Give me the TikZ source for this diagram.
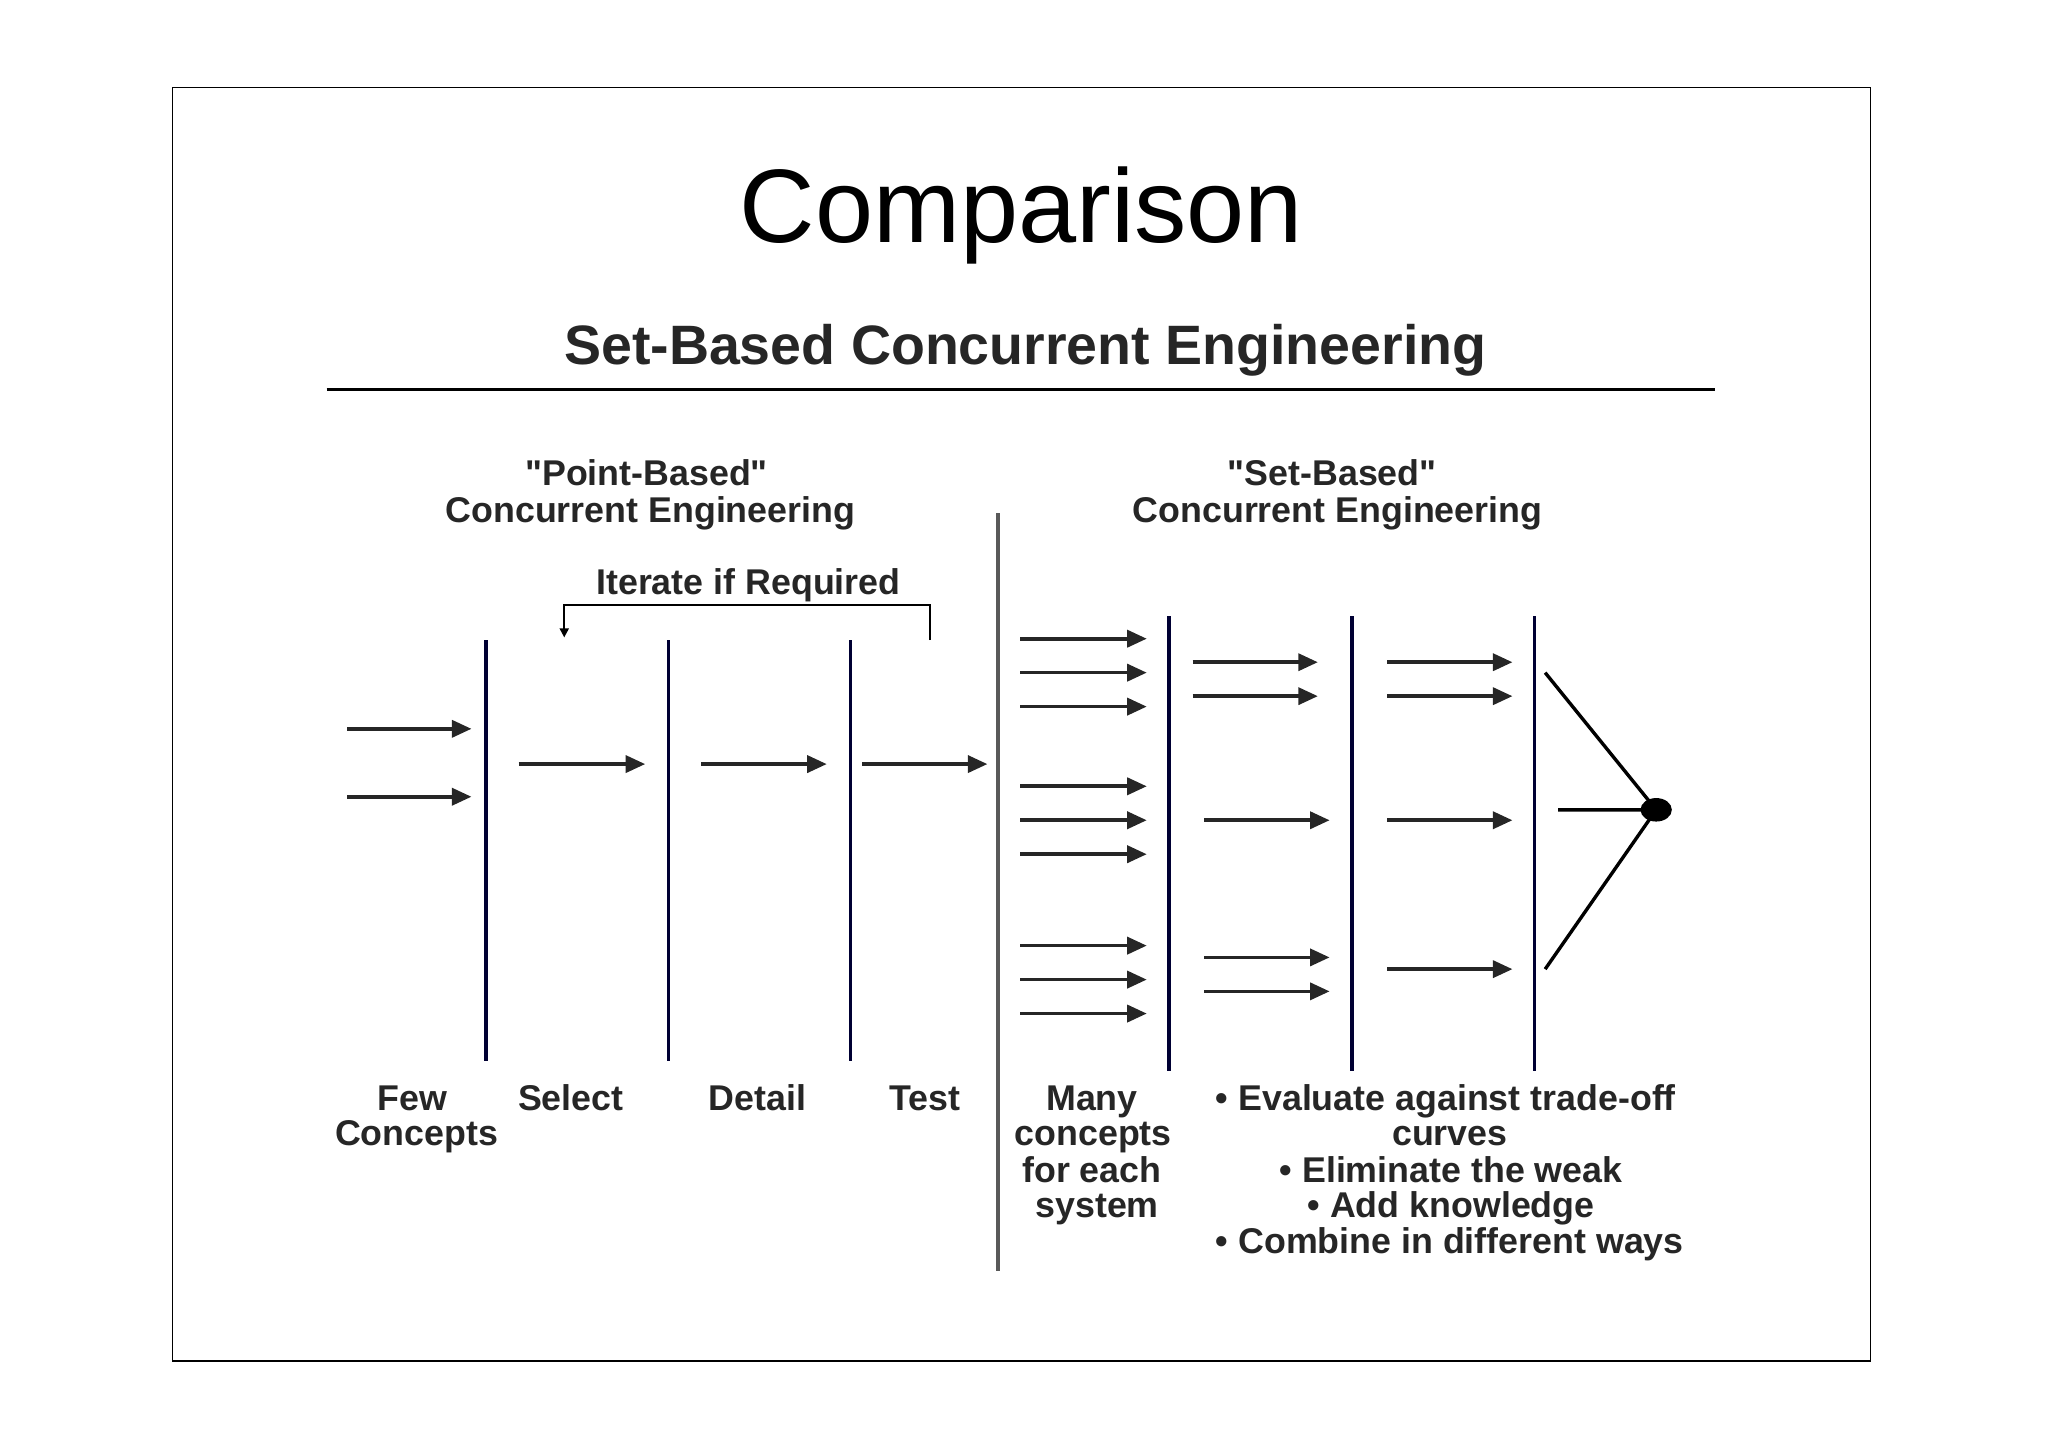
\documentclass[tikz,border=0pt]{standalone}
\usepackage{fontspec}
\setmainfont{Liberation Sans}[Ligatures=TeXOff]
\usetikzlibrary{arrows.meta,shapes.geometric}
\begin{document}
\begin{tikzpicture}[x=1pt,y=-1pt,
 lbl/.style={font=\fontsize{27.4}{30}\selectfont\bfseries, text=black!85, inner sep=0pt, anchor=base},
 ar/.style={line width=2.8pt, -{Triangle[length=15pt,width=13pt]}, draw=black!85},
 vl/.style={line width=2.6pt, draw=black!80!blue}]
\useasboundingbox (0,0) rectangle (1568,1108);
\draw[line width=1.2pt] (132,67) rectangle (1432,1042);
\node[inner sep=0pt,font=\fontsize{80}{90}\selectfont] (title) at (782,165) {Comparison};
\node[inner sep=0pt,font=\fontsize{42.5}{46}\selectfont\bfseries,text=black!85] (sub) at (785,268) {Set-Based Concurrent Engineering};
\coordinate (ul1) at (250,298); \coordinate (ul2) at (1313,298);
\draw[line width=2.5pt] (ul1) -- (ul2);
\coordinate (d1) at (764,393); \coordinate (d2) at (764,973);
\draw[line width=2.5pt, black!65] (d1) -- (d2);
\node[lbl] (ph1) at (495,372) {"Point-Based"};
\node[lbl] (ph2) at (498,400) {Concurrent Engineering};
\node[lbl] (sh1) at (1020,372) {"Set-Based"};
\node[lbl] (sh2) at (1024,400) {Concurrent Engineering};
\node[lbl] (it) at (573,455) {Iterate if Required};
\coordinate (i1) at (712,490); \coordinate (i2) at (432,488);
\draw[line width=1.5pt, -{Triangle[length=7pt,width=7pt]}] (i1) -- (712,463) -- (432,463) -- (i2);
% verticals
\foreach \n/\x/\a/\b in {v1/372/490/812, v2/512/490/812, v3/651/490/812, v4/895/472/820, v5/1035/472/820, v6/1175/472/820}{
  \coordinate (\n a) at (\x,\a); \coordinate (\n b) at (\x,\b);
  \draw[vl] (\n a) -- (\n b);}
% arrows
\foreach \n/\xa/\xb/\y in {a1/266/361/558, a2/266/361/610, a3/397/494/585, a4/537/633/585, a5/660/756/585,
  b1/781/878/489, b2/781/878/515, b3/781/878/541, b4/781/878/602, b5/781/878/628, b6/781/878/654,
  b7/781/878/724, b8/781/878/750, b9/781/878/776,
  c1/913/1009/507, c2/913/1009/533, c3/922/1018/628, c4/922/1018/733, c5/922/1018/759,
  e1/1062/1158/507, e2/1062/1158/533, e3/1062/1158/628, e4/1062/1158/742}{
  \coordinate (\n s) at (\xa,\y); \coordinate (\n e) at (\xb,\y);
  \draw[ar] (\n s) -- (\n e);}
\node[fill=black, ellipse, minimum width=24pt, minimum height=18pt, inner sep=0pt] (dot) at (1268,620) {};
\coordinate (f1) at (1183,515); \coordinate (f2) at (1193,620); \coordinate (f3) at (1183,742);
\draw[line width=2.6pt] (f1) -- (dot.center) (f2) -- (dot.center) (f3) -- (dot.center);
% labels
\node[lbl] (few1) at (316,850) {Few};
\node[lbl] (few2) at (319,877) {Concepts};
\node[lbl] (sel) at (437,850) {Select};
\node[lbl] (det) at (580,850) {Detail};
\node[lbl] (tst) at (708,850) {Test};
\node[lbl] (m1) at (836,850) {Many};
\node[lbl] (m2) at (837,877) {concepts};
\node[lbl] (m3) at (836,905) {for each};
\node[lbl] (m4) at (840,932) {system};
\node[lbl] (t1) at (1107,850) {• Evaluate against trade-off};
\node[lbl] (t2) at (1110,877) {curves};
\node[lbl] (t3) at (1111,905) {• Eliminate the weak};
\node[lbl] (t4) at (1111,932) {• Add knowledge};
\node[lbl] (t5) at (1110,960) {• Combine in different ways};
\end{tikzpicture}
\end{document}
